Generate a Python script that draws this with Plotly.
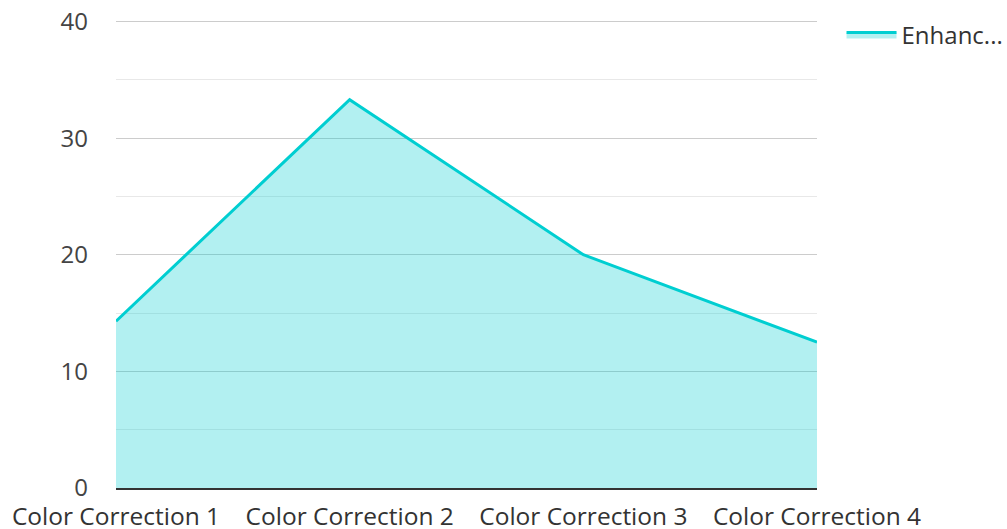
import plotly.graph_objects as go

categories = ["Color Correction 1", "Color Correction 2", "Color Correction 3", "Color Correction 4"]
values = [14.3, 33.3, 20.0, 12.5]
series_name = "Enhanc..."
y_ticks = [0, 10, 20, 30, 40]

fig = go.Figure()
fig.add_trace(go.Scatter(
    x=categories, y=values, name=series_name, mode="lines",
    line=dict(color="#00CED1", width=3),
    fill="tozeroy", fillcolor="rgba(0,206,209,0.3)",
))

fig.update_layout(
    width=1007, height=529,
    margin=dict(l=116, r=190, t=17.5, b=41, autoexpand=False),
    paper_bgcolor="white", plot_bgcolor="white",
    font=dict(family="Open Sans", size=24, color="#444"),
    showlegend=True,
    legend=dict(x=1.035, y=1.012, xanchor="left", yanchor="top", itemwidth=50,
                font=dict(size=24, color="#333"), bgcolor="rgba(0,0,0,0)"),
    xaxis=dict(type="category", range=[0, 3], showgrid=False, automargin=False,
               showline=True, linecolor="#333", linewidth=2,
               ticks="", ticklabelstandoff=6, tickfont=dict(size=24.5, color="#333")),
    yaxis=dict(range=[0, 40.3], tickvals=y_ticks, showgrid=True, automargin=False,
               gridcolor="#cccccc", gridwidth=1, zeroline=False,
               ticks="", ticklabelstandoff=27,
               minor=dict(dtick=5, showgrid=True, gridcolor="#e8e8e8"),
               tickfont=dict(size=24, color="#444")),
)

fig.write_html("out.html", config={"displayModeBar": False},
               post_script="document.body.style.margin='0';")
